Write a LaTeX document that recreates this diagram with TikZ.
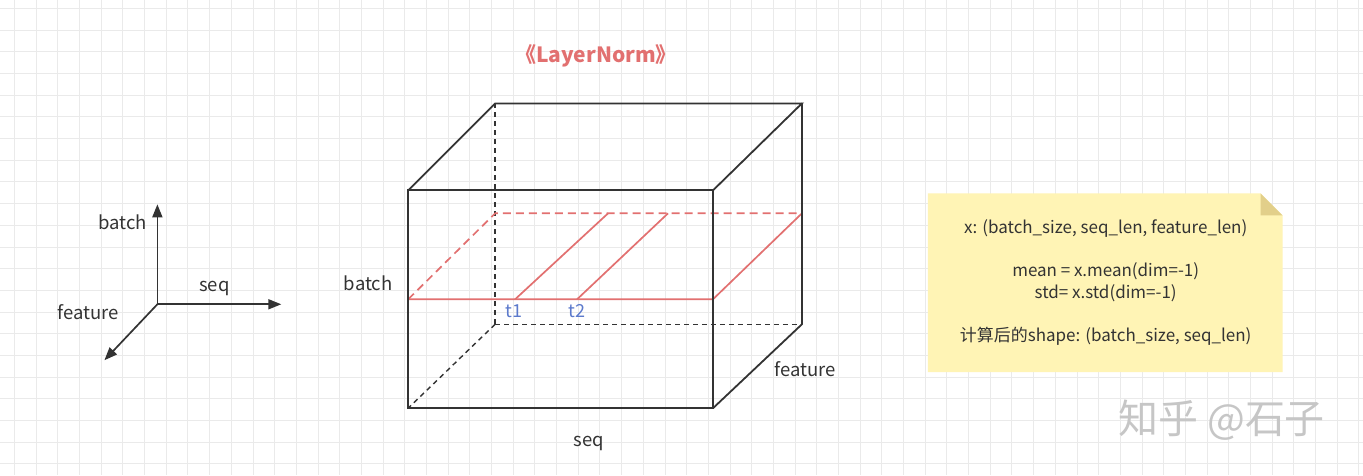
\documentclass[tikz,border=0pt]{standalone}
\usepackage{fontspec}
\setmainfont{Noto Sans CJK SC}
\usepackage{tikz}
\usetikzlibrary{arrows.meta}
\definecolor{edgegray}{RGB}{51,51,51}
\definecolor{planered}{RGB}{226,112,112}
\definecolor{tblue}{RGB}{92,122,204}
\definecolor{notefill}{RGB}{255,244,181}
\definecolor{notefold}{RGB}{226,207,138}
\definecolor{gridgray}{RGB}{234,234,234}

\begin{document}
\begin{tikzpicture}[x=1pt,y=-1pt] \tikzset{% styles for the cube, the plane and the labels
        gridline/.style={gridgray, line width=1},
        edgeline/.style={edgegray, line width=1.8, line cap=round},
        hidden/.style={edgegray, line width=1.4, dash pattern=on 5pt off 4pt},
        plane/.style={planered, line width=1.7},
        planehid/.style={planered, line width=1.7, dash pattern=on 8pt off 5pt},
        axis/.style={edgegray, line width=1.7, -{Triangle[length=13pt,width=10pt]}},
        lbl/.style={text=edgegray, font=\fontsize{18.5}{22}\selectfont, inner sep=0},
        tlbl/.style={text=tblue, font=\fontsize{18}{22}\selectfont, inner sep=0},
        heading/.style={text=planered, font=\fontsize{21}{25}\selectfont\bfseries, inner sep=0},
        notetext/.style={text=edgegray, font=\fontsize{17}{21.6}\selectfont, align=center, inner sep=0},
        wmark/.style={text=gray!45, font=\fontsize{40}{46}\selectfont, inner sep=0},
        }
        % Background grid
        \fill[white] (0,0) rectangle (1363,475);
        \foreach \i in {0,...,62} {\draw[gridline] ({14+21.7*\i},0) -- ({14+21.7*\i},475);}
        \foreach \j in {0,...,21} {\draw[gridline] (0,{8+21.7*\j}) -- (1363,{8+21.7*\j});}

        % Axes
        \coordinate (o) at (157,304); \coordinate (ab) at (157,204); \coordinate (as) at (281,304);
        \coordinate (af) at (104,360);
        \draw[axis] (o) -- (ab); \draw[axis] (o) -- (as); \draw[axis] (o) -- (af);
        \node[lbl] (lb) at (122,222) {batch}; \node[lbl] (ls) at (214,288) {seq};
        \node[lbl] (lf) at (88,312) {feature};

        % Cube corners (f = front, b = back)
        \coordinate (ftl) at (408,190); \coordinate (ftr) at (713,190);
        \coordinate (fbl) at (408,408); \coordinate (fbr) at (713,408);
        \coordinate (btl) at (495,103); \coordinate (btr) at (802,103);
        \coordinate (bbl) at (495,324); \coordinate (bbr) at (802,324);
        % Plane corners
        \coordinate (pfl) at (408,299); \coordinate (pfr) at (713,299);
        \coordinate (pbl) at (495,213); \coordinate (pbr) at (802,213);
        \coordinate (t1a) at (515,299); \coordinate (t1b) at (608,213);
        \coordinate (t2a) at (577,299); \coordinate (t2b) at (668,213);

        %Hidden edges
        \draw[hidden] (btl) -- (bbl); \draw[hidden] (bbl) -- (bbr); \draw[hidden] (bbl) -- (fbl);
        %Plane
        \draw[planehid] (pfl) -- (pbl) -- (pbr);
        \draw[plane] (pfl) -- (pfr) -- (pbr);
        \draw[plane] (t1a) -- (t1b); \draw[plane] (t2a) -- (t2b);
        %Edges
        \draw[edgeline] (ftl) rectangle (fbr);
        \draw[edgeline] (ftl) -- (btl) -- (btr) -- (ftr); \draw[edgeline] (btr) -- (bbr) -- (fbr);

        % Labels
        \node[heading] (ttl) at (596,55) {《LayerNorm》};
        \node[lbl] (cb) at (368,283) {batch}; \node[lbl] (cf) at (805,369) {feature};
        \node[lbl] (cs) at (589,443) {seq};
        \node[tlbl] (t1) at (514,311) {t1}; \node[tlbl] (t2) at (577,311) {t2};

        % Note
        \fill[notefill] (928,193) -- (1261,193) -- (1283,215) -- (1283,372) -- (928,372) -- cycle;
        \fill[notefold] (1261,193) -- (1283,215) -- (1261,215) -- cycle;
        \node[notetext] (note) at (1106,282) {x: (batch\_size, seq\_len, feature\_len)\\[21.6pt]
        mean = x.mean(dim=-1)\\ std= x.std(dim=-1)\\[21.6pt] 计算后的shape: (batch\_size, seq\_len)};
        \node[wmark] (wm) at (1222,420) {知乎 @石子};
\end{tikzpicture}
\end{document}
